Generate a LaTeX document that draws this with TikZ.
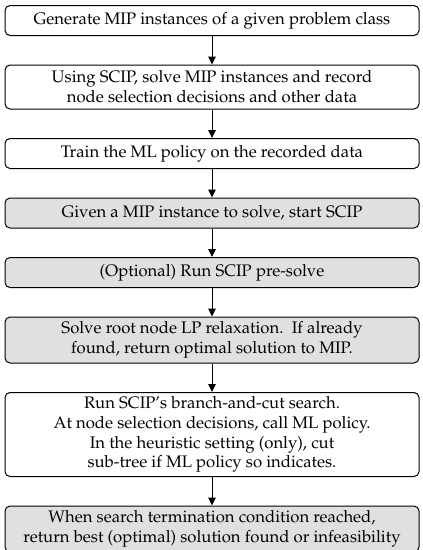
\documentclass[tikz,border=0pt]{standalone}
\usepackage[T1]{fontenc}
\usepackage{mathpazo}
\usetikzlibrary{shapes,arrows.meta,positioning}

\begin{document}
\begin{tikzpicture}[x=1pt, y=1pt, node distance=28.5pt,
    stepbox/.style={draw, rounded corners=5pt, line width=1pt, minimum width=414pt, minimum height=30pt, align=center, inner sep=0pt, font=\fontsize{16.7}{19.8}\selectfont},
    greybox/.style={stepbox, fill=black!12},
    flowarrow/.style={-{Triangle[length=8pt,width=7.5pt]}, line width=1pt}]
    \useasboundingbox (0,0) rectangle (423,-550);

    % Training phase
    \node [stepbox, anchor=north] (generate) at (212,-5) {Generate MIP instances of a given problem class};
    \node [stepbox, minimum height=44pt, below=of generate] (record) {Using SCIP, solve MIP instances and record\\node selection decisions and other data};
    \node [stepbox, below=of record] (train) {Train the ML policy on the recorded data};

    % Solving phase
    \node [greybox, below=of train] (start) {Given a MIP instance to solve, start SCIP};
    \node [greybox, below=of start] (presolve) {(Optional) Run SCIP pre-solve};
    \node [greybox, minimum height=46pt, below=of presolve] (rootlp) {Solve root node LP relaxation.\ \ If already\\found, return optimal solution to MIP.};
    \node [stepbox, minimum height=84pt, below=of rootlp] (search) {Run SCIP's branch-and-cut search.\\At node selection decisions, call ML policy.\\In the heuristic setting (only), cut\\sub-tree if ML policy so indicates.};
    \node [greybox, minimum height=46pt, below=of search] (finish) {When search termination condition reached,\\return best (optimal) solution found or infeasibility};

    % Arrows
    \draw [flowarrow] (generate) -- (record);
    \draw [flowarrow] (record) -- (train);
    \draw [flowarrow] (train) -- (start);
    \draw [flowarrow] (start) -- (presolve);
    \draw [flowarrow] (presolve) -- (rootlp);
    \draw [flowarrow] (rootlp) -- (search);
    \draw [flowarrow] (search) -- (finish);
\end{tikzpicture}
\end{document}
